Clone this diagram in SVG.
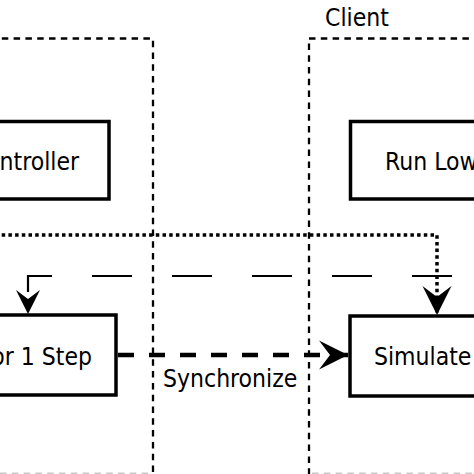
<svg xmlns="http://www.w3.org/2000/svg" width="474" height="474" viewBox="0 0 474 474">
<defs>
<style>
.container{fill:none;stroke:#000;stroke-width:2.3;stroke-dasharray:6.5 5.3}
.edge{fill:none;stroke:#c8c8c8;stroke-width:2;stroke-dasharray:6.5 5.3}
.box{fill:#fff;stroke:#000;stroke-width:3.5}
.lbl{font-family:"DejaVu Sans Condensed","DejaVu Sans","Liberation Sans",sans-serif;font-stretch:condensed;font-size:24.5px;fill:#000}
.dotted{fill:none;stroke:#000;stroke-width:3.5;stroke-dasharray:3.5 3.2}
.longdash{fill:none;stroke:#000;stroke-width:2.2;stroke-dasharray:40 40}
.sync{fill:none;stroke:#000;stroke-width:4.5;stroke-dasharray:16 15}
</style>
<marker id="ah" markerUnits="userSpaceOnUse" markerWidth="30" markerHeight="30" viewBox="-30 -15 30 30" refX="0" refY="0" orient="auto" overflow="visible">
<path d="M0,0 L-29,-14.5 L-18,0 L-29,14.5 Z" fill="#000"/>
</marker>
<marker id="ahs" markerUnits="userSpaceOnUse" markerWidth="26" markerHeight="26" viewBox="-26 -13 26 26" refX="0" refY="0" orient="auto" overflow="visible">
<path d="M0,0 L-24,-12 L-15,0 L-24,12 Z" fill="#000"/>
</marker>
</defs>
<rect width="474" height="474" fill="#fff"/>
<g id="server-container">
<rect class="container" x="-10" y="38.5" width="163" height="437"/>
<path class="edge" d="M0,473.5 H150"/>
</g>
<g id="client-container">
<rect class="container" x="309" y="38.5" width="200" height="437"/>
<path class="edge" d="M312,473.5 H474"/>
<text class="lbl" x="325" y="26">Client</text>
</g>
<g id="controller">
<rect class="box" x="-10" y="121.5" width="119" height="77.5"/>
<text class="lbl" x="79" y="170" text-anchor="end">ntroller</text>
</g>
<g id="run-low">
<rect class="box" x="350.5" y="121.5" width="140" height="77.5"/>
<text class="lbl" x="385" y="170">Run Low</text>
</g>
<g id="step">
<rect class="box" x="-10" y="315" width="126" height="80"/>
<text class="lbl" x="92" y="365" text-anchor="end">or 1 Step</text>
</g>
<g id="simulate">
<rect class="box" x="350" y="316" width="140" height="80"/>
<text class="lbl" x="374" y="365">Simulate</text>
</g>
<g id="connectors">
<path class="dotted" d="M-5,235 H437 V315" marker-end="url(#ah)"/>
<path class="longdash" d="M452,276 H28 V314" marker-end="url(#ahs)"/>
<path class="sync" d="M118,355 H348" marker-end="url(#ah)"/>
<text class="lbl" x="163" y="387">Synchronize</text>
</g>
</svg>
